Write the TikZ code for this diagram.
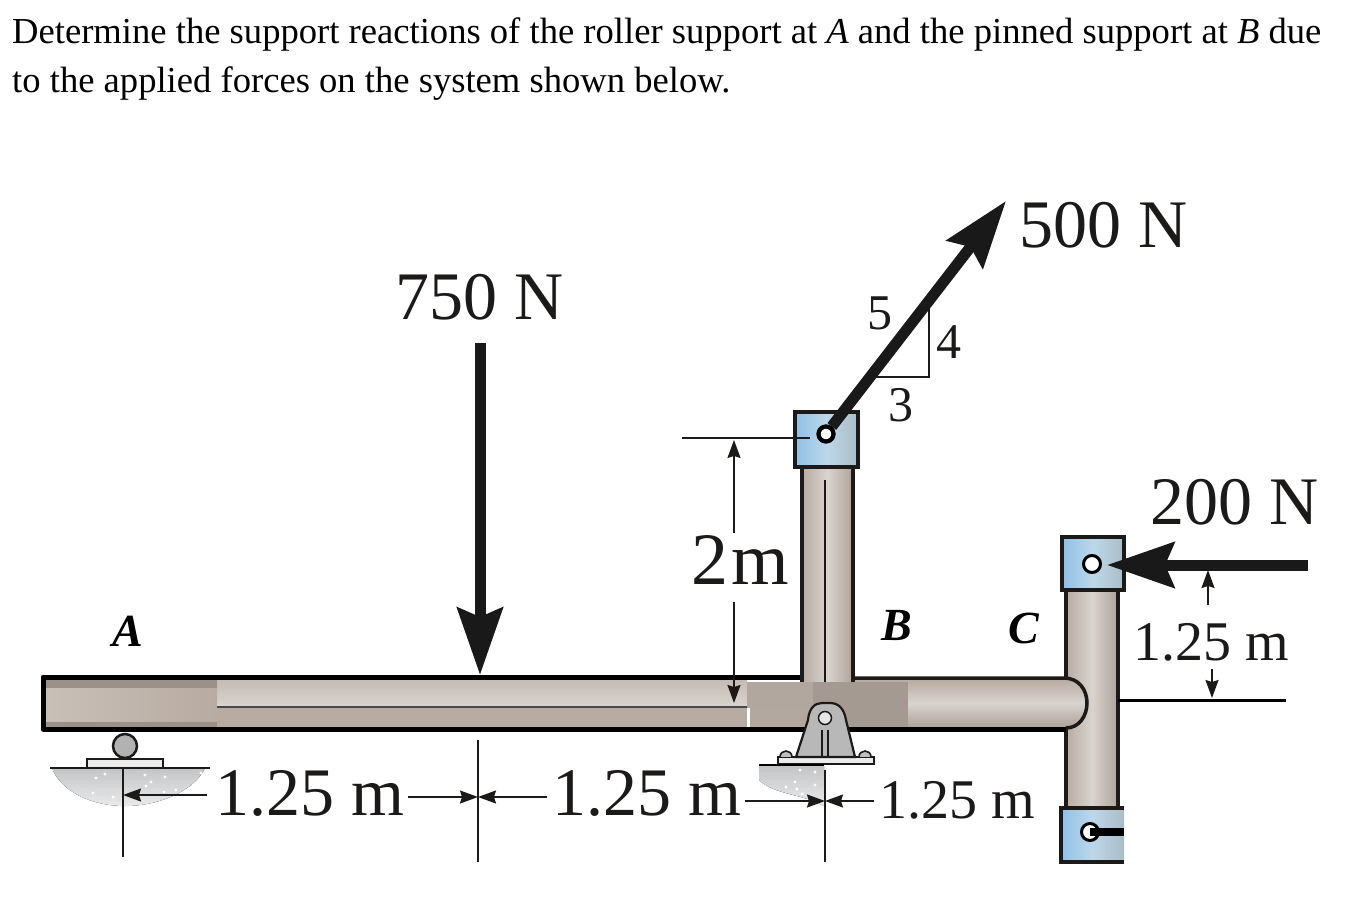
\documentclass[tikz,border=0pt]{standalone}
\usepackage{fontspec}
\setmainfont{Liberation Serif}
\usetikzlibrary{arrows.meta}
\definecolor{inkline}{HTML}{1C1A19}
\definecolor{pipeside}{HTML}{B8ABA1}
\definecolor{pipelight}{HTML}{D8D4CE}
\definecolor{blueleft}{HTML}{8FC0E6}
\definecolor{bluemid}{HTML}{BDD7EA}
\definecolor{blueright}{HTML}{A9BDC5}
\definecolor{soilgray}{HTML}{C3C4C6}
\tikzset{
  bodytext/.style={font=\fontsize{36.6}{40}\selectfont, inner sep=0, anchor=base west},
  bigtext/.style={font=\fontsize{68}{70}\selectfont, inner sep=0, text=inkline},
  midtext/.style={font=\fontsize{56}{60}\selectfont, inner sep=0, text=inkline},
  slopetext/.style={font=\fontsize{50}{52}\selectfont, inner sep=0, text=inkline},
  pointtext/.style={font=\fontsize{46}{48}\selectfont\bfseries\itshape, inner sep=0},
  blockbox/.style={rectangle, draw=inkline, line width=3.5pt, left color=blueleft, right color=blueright, middle color=bluemid, inner sep=0},
  ringpin/.style={circle, draw=black, fill=white, line width=4pt, minimum size=15pt, inner sep=0},
  forcearrow/.style={-{Stealth[length=67pt,width=45pt,inset=9pt]}, line width=11pt, black!90},
  dimarrow/.style={-{Stealth[length=18pt,width=13pt,inset=2pt]}, line width=1.6pt, inkline},
  dimline/.style={line width=2pt, inkline},
  vpipe/.style={left color=pipeside, right color=pipeside!95!black, middle color=pipelight},
}
\begin{document}
\begin{tikzpicture}[x=1pt, y=-1pt]
\useasboundingbox (0,0) rectangle (1355,902);

\node[bodytext] (line1) at (12,43) {Determine the support reactions of the roller support at \textit{A} and the pinned support at \textit{B} due};
\node[bodytext] (line2) at (12,92) {to the applied forces on the system shown below.};

% right hand pipe
\fill[vpipe] (1066,590) rectangle (1118,810);
\draw[line width=3.5pt, inkline] (1066,590) -- (1066,810) (1118,590) -- (1118,810);
\fill[top color=pipeside, bottom color=pipeside!95!black, middle color=pipelight] (853,679) -- (1064,679) .. controls (1079,679) and (1087,690) .. (1087,703) .. controls (1087,716) and (1079,727) .. (1066,727) -- (853,727) -- cycle;
\draw[line width=3.5pt, inkline] (853,678) -- (1064,678) .. controls (1079,678) and (1087,690) .. (1087,703) .. controls (1087,716) and (1079,728) .. (1066,728);
\draw[line width=5pt, black] (908,729) -- (1066,729);

% long beam
\fill[top color=pipeside!80!white, bottom color=pipelight] (217,680) rectangle (747,706);
\fill[pipeside] (217,706) rectangle (747,727);
\draw[line width=2.5pt, inkline!80] (217,707) -- (747,707);
\fill[left color=pipeside!50!pipelight, right color=pipeside] (45,680) rectangle (217,727);
\fill[pipeside!85!black] (45,680) rectangle (217,688);
\fill[pipeside!85!black] (45,722) rectangle (217,727);
\draw[line width=5pt, black, line cap=round, line join=round] (802,677) -- (43,677) -- (43,729) -- (800,729);

% post above B
\fill[vpipe] (802,467) rectangle (853,682);
\draw[line width=3.5pt, inkline] (802,467) -- (802,682) (853,467) -- (853,682);
\draw[line width=2pt, inkline] (825,480) -- (825,682);
\fill[pipeside!90!gray] (747,682) rectangle (813,708);
\fill[pipeside!92!gray] (750,708) rectangle (813,727);
\fill[pipeside!90!black] (813,682) rectangle (908,727);
\draw[line width=5pt, black] (800,729) -- (908,729);

\node[blockbox, minimum width=63pt, minimum height=55pt] (blockB) at (826.5,439.5) {};
\node[blockbox, minimum width=62pt, minimum height=53pt] (blockC) at (1093,563.5) {};
\node[rectangle, left color=blueleft, right color=blueright, middle color=bluemid, minimum width=63pt, minimum height=54pt, inner sep=0] (blockD) at (1092.5,835) {};
\draw[line width=3.5pt, inkline] (blockD.north east) -- (blockD.north west) -- (blockD.south west) -- (blockD.south east);

\node[ringpin] (pinB) at (826,434) {};
\node[ringpin, line width=3pt, minimum size=17pt] (pinC) at (1092,564) {};
\node[ringpin, line width=3pt, minimum size=17pt] (pinD) at (1090,832) {};
\coordinate (rodD) at (blockD.east |- pinD);
\draw[line width=8pt, black] (pinD.center) -- (rodD);

% loads
\coordinate (tipLong) at (480,675);
\coordinate (tailLong) at (480,343);
\coordinate (tip500) at (1006,201);
\coordinate (tip200) at (1107,565);
\coordinate (tail200) at (1308,565);
\draw[forcearrow] (tailLong) -- (tipLong);
\draw[forcearrow] (pinB) -- (tip500);
\draw[forcearrow] (tail200) -- (tip200);
\node[ringpin, fill=none] (pinBtop) at (826,434) {};
\node[bigtext] (load750) at (480,297) {750 N};
\node[bigtext] (load500) at (1104,225) {500 N};
\node[bigtext] (load200) at (1235,502) {200 N};

% slope triangle
\coordinate (tri1) at (875,377);
\coordinate (tri2) at (929,377);
\coordinate (tri3) at (929,308);
\draw[line width=1.6pt, inkline] (tri1) -- (tri2) -- (tri3);
\node[slopetext] (five) at (880,313) {5};
\node[slopetext] (four) at (949,342) {4};
\node[slopetext] (three) at (901,405) {3};

% support at A
\fill[top color=soilgray, bottom color=soilgray!35] (52,768) .. controls (60,790) and (90,806) .. (125,806) .. controls (160,806) and (195,790) .. (205,768) -- cycle;
\foreach \px/\py in {96/778, 105/774, 93/793, 113/797, 145/775, 151/782, 165/777, 135/793, 164/792, 201/773, 146/786, 176/790}
  \fill[white] (\px,\py) circle (1.6pt);
\node[rectangle, draw=inkline, fill=black!8, line width=2pt, minimum width=76pt, minimum height=9pt, inner sep=0] (plateA) at (125,763) {};
\node[circle, draw=inkline, fill=black!30, line width=2.5pt, minimum size=24pt, inner sep=0] (rollerA) at (125,746) {};
\coordinate (groundA1) at (50,768);
\coordinate (groundA2) at (210,768);
\draw[line width=2pt, inkline] (groundA1) -- (groundA2);

% support at B
\fill[top color=soilgray, bottom color=soilgray!35] (759,766) -- (759,780) .. controls (775,795) and (800,793) .. (824,806) -- (824,766) -- cycle;
\foreach \px/\py in {800/770, 815/772, 786/787, 795/782, 797/789, 802/794, 815/785}
  \fill[white] (\px,\py) circle (1.6pt);
\node[rectangle, draw=inkline, fill=black!8, line width=1.6pt, minimum width=96pt, minimum height=7pt, inner sep=0] (plateB) at (826,760.5) {};
\draw[line width=1.6pt, inkline, fill=black!25] (780,757) .. controls (780,749) and (792,749) .. (792,757);
\draw[line width=1.6pt, inkline, fill=black!25] (859,757) .. controls (859,749) and (871,749) .. (871,757);
\draw[line width=2.2pt, inkline, fill=black!28] (796,757) -- (808,720) .. controls (809,708) and (815,703) .. (822,703) -- (830,703) .. controls (838,703) and (844,708) .. (846,720) -- (855,757) -- cycle;
\node[circle, draw=inkline, fill=black!10, line width=1.5pt, minimum size=13pt, inner sep=0] (holeB) at (825,718) {};
\draw[line width=1.5pt, inkline] (822,730) -- (822,757) (828,730) -- (828,757);
\draw[line width=2pt, black] (759,765) -- (824,765);

% dimensions along the bottom
\coordinate (dimA1) at (123,767);
\coordinate (dimA2) at (123,857);
\coordinate (dimM1) at (478,740);
\coordinate (dimM2) at (478,862);
\coordinate (dimB1) at (825,770);
\coordinate (dimB2) at (825,862);
\draw[dimline] (dimA1) -- (dimA2);
\draw[dimline] (dimM1) -- (dimM2);
\draw[dimline] (dimB1) -- (dimB2);
\node[bigtext] (spanAM) at (310,793) {1.25 m};
\node[bigtext] (spanMB) at (647,793) {1.25 m};
\node[midtext] (spanBC) at (957,800) {1.25 m};
\draw[dimarrow] (spanAM.west |- 0,795) ++(-8,0) coordinate (arrA) -- (dimA1 |- arrA);
\draw[dimarrow] (spanAM.east |- 0,797) ++(3,0) coordinate (arrM) -- (dimM1 |- arrM);
\draw[dimarrow] (spanMB.west |- 0,797) ++(-5,0) coordinate (arrN) -- (dimM1 |- arrN);
\draw[dimarrow] (spanMB.east |- 0,801) ++(3,0) coordinate (arrP) -- (dimB1 |- arrP);
\draw[dimarrow] (spanBC.west |- 0,801) ++(-5,0) coordinate (arrQ) -- (dimB1 |- arrQ);

% height of the post
\coordinate (hLeft) at (682,438);
\coordinate (hRight) at (810,438);
\draw[dimline] (hLeft) -- (hRight);
\node[bigtext, font=\fontsize{74}{76}\selectfont] (twoM) at (740,560) {2\kern3pt m};
\coordinate (upTail) at (734,533);
\coordinate (upTip) at (734,440);
\coordinate (downTail) at (734,602);
\coordinate (downTip) at (734,703);
\draw[dimarrow] (upTail) -- (upTip);
\draw[dimarrow] (downTail) -- (downTip);

% offset at right
\node[midtext] (spanC) at (1211,642) {1.25 m};
\coordinate (offLeft) at (1118,700);
\coordinate (offRight) at (1286,700);
\draw[line width=3pt, black] (offLeft) -- (offRight);
\coordinate (offUpTail) at (1208,605);
\coordinate (offUpTip) at (1208,570);
\coordinate (offDownTail) at (1212,669);
\coordinate (offDownTip) at (1212,698);
\draw[dimarrow] (offUpTail) -- (offUpTip);
\draw[dimarrow] (offDownTail) -- (offDownTip);

\node[pointtext] (labelA) at (128,631) {A};
\node[pointtext] (labelB) at (897,626) {B};
\node[pointtext] (labelC) at (1024,628) {C};
\end{tikzpicture}
\end{document}
